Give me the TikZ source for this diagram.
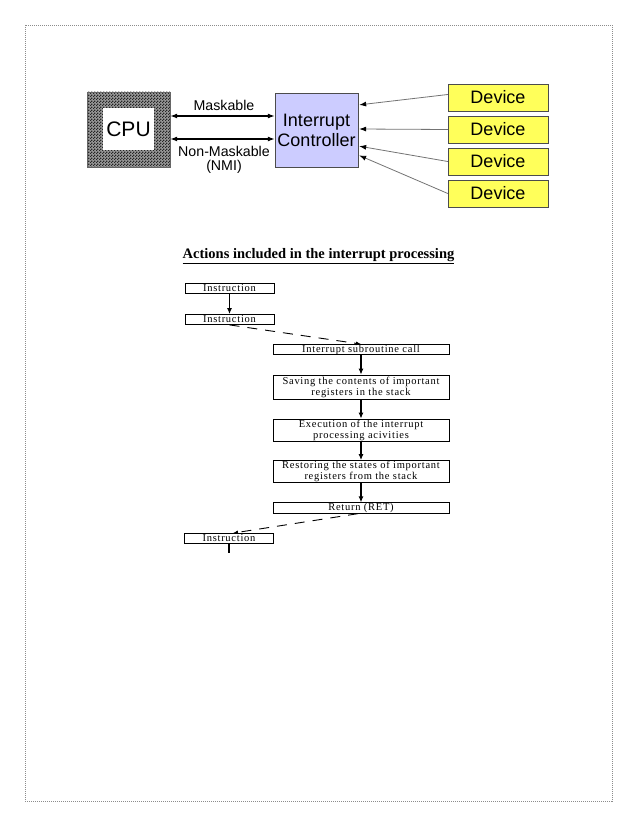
\documentclass[tikz,border=0pt]{standalone}
\usepackage{fontspec}
\setmainfont{Liberation Serif}
\newfontfamily\arialf{Liberation Sans}
\newfontfamily\flowf[LetterSpace=7]{Liberation Serif}
\usetikzlibrary{arrows.meta,patterns}
\pgfdeclarepatternformonly{finecheck}{\pgfpointorigin}{\pgfqpoint{3pt}{3pt}}{\pgfqpoint{3pt}{3pt}}{%
  \pgfpathrectangle{\pgfpointorigin}{\pgfqpoint{1.5pt}{1.5pt}}%
  \pgfpathrectangle{\pgfqpoint{1.5pt}{1.5pt}}{\pgfqpoint{1.5pt}{1.5pt}}%
  \pgfusepath{fill}}
\definecolor{ctrlblue}{RGB}{204,204,255}
\definecolor{devyellow}{RGB}{255,255,90}
\tikzset{
  sans/.style={font=\arialf\fontsize{#1}{#1}\selectfont, inner sep=0pt},
  devbox/.style={draw=black!70, fill=devyellow, minimum width=100pt, minimum height=27pt, inner sep=0pt, font=\arialf\fontsize{18}{18}\selectfont},
  flowbox/.style={draw=black, line width=0.8pt, minimum width=176pt, inner sep=0pt, align=center, font=\flowf\fontsize{10.5}{11}\selectfont},
  insbox/.style={draw=black, line width=0.8pt, minimum width=89pt, minimum height=10pt, inner sep=0pt, font=\flowf\fontsize{10.5}{10}\selectfont},
  dblarrow/.style={{Latex[length=7pt,width=5pt]}-{Latex[length=7pt,width=5pt]}, line width=1.3pt},
  devarrow/.style={draw=black!55, line width=0.8pt, -{Latex[length=7pt,width=5pt,black]}, shorten >=1pt},
  flowarrow/.style={line width=1.1pt, -{Latex[length=6pt,width=5pt]}},
  dasharrow/.style={line width=0.9pt, dash pattern=on 10pt off 8pt, -{Latex[length=5pt,width=4pt]}}
}
\begin{document}
\begin{tikzpicture}[x=1pt,y=-1pt]
\useasboundingbox (0,0) rectangle (638,826);
\draw[black!45, line width=0.8pt, dash pattern=on 1pt off 1pt] (25,25) rectangle (612,801);
% CPU
\node[draw=black!60, preaction={fill=black!40}, pattern=finecheck, pattern color=black!85, minimum width=83pt, minimum height=75pt, inner sep=0pt] (cpuouter) at (128.5,129.5) {};
\node[fill=white, minimum width=51pt, minimum height=42pt, inner sep=0pt, font=\arialf\fontsize{21}{21}\selectfont] (cpu) at (128.5,129) {CPU};
% controller
\node[draw=black!70, fill=ctrlblue, minimum width=83pt, minimum height=74pt, inner sep=0pt, align=center, font=\arialf\fontsize{18}{20}\selectfont] (ctrl) at (316.5,130) {Interrupt\\Controller};
% devices
\node[devbox] (dev1) at (498,97.5) {Device};
\node[devbox] (dev2) at (498,129.5) {Device};
\node[devbox] (dev3) at (498,161.5) {Device};
\node[devbox] (dev4) at (498,193.5) {Device};
% CPU-controller arrows
\draw[dblarrow] ([yshift=13.5pt]cpuouter.east) -- ([yshift=14pt]ctrl.west);
\draw[dblarrow] ([yshift=-9.5pt]cpuouter.east) -- ([yshift=-9pt]ctrl.west);
\node[sans=14.2] (mask) at (224,105) {Maskable};
\node[sans=14.2] (nonmask) at (224,151) {Non-Maskable};
\node[sans=14.2] (nmi) at (224,167) {(NMI)};
% device arrows
\draw[devarrow] ([yshift=3pt]dev1.west) -- ([yshift=25pt]ctrl.east);
\draw[devarrow] (dev2.west) -- ([yshift=1pt]ctrl.east);
\draw[devarrow] (dev3.west) -- ([yshift=-16pt]ctrl.east);
\draw[devarrow] (dev4.west) -- ([yshift=-25pt]ctrl.east);
% title
\node[inner sep=0pt, font=\bfseries\fontsize{14.5}{15}\selectfont] (title) at (318.5,256) {\underline{Actions included in the interrupt processing}};
% flowchart
\node[insbox] (ins1) at (229.5,288) {Instruction};
\node[insbox] (ins2) at (229.5,319.5) {Instruction};
\node[flowbox, minimum height=10pt] (isc) at (361,349.5) {Interrupt subroutine call};
\node[flowbox, minimum height=24pt] (save) at (361,387) {Saving the contents of important\\registers in the stack};
\node[flowbox, minimum height=22pt] (exec) at (361,430) {Execution of the interrupt\\processing acivities};
\node[flowbox, minimum height=22pt] (rest) at (361,471.5) {Restoring the states of important\\registers from the stack};
\node[flowbox, minimum height=10.5pt] (ret) at (361,508) {Return (RET)};
\node[insbox] (ins3) at (229,538.5) {Instruction};
\coordinate (tail) at (229,553);
\draw[flowarrow] (ins1) -- (ins2);
\draw[dasharrow] (ins2.south) -- (isc.north);
\draw[flowarrow] (isc) -- (save);
\draw[flowarrow] (save) -- (exec);
\draw[flowarrow] (exec) -- (rest);
\draw[flowarrow] (rest) -- (ret);
\draw[dasharrow] ([xshift=-3pt]ret.south) -- ([xshift=4pt]ins3.north);
\draw[line width=1.1pt] (ins3.south) -- (tail);
\end{tikzpicture}
\end{document}
